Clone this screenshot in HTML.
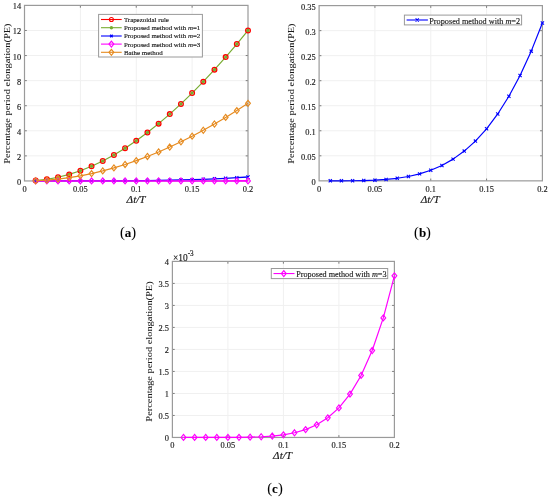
<!DOCTYPE html>
<html><head><meta charset="utf-8"><style>
html,body{margin:0;padding:0;background:#fff;width:550px;height:499px;overflow:hidden}
svg{display:block}
text{stroke:#1a1a1a;stroke-width:0.15px;paint-order:stroke}
</style></head><body>
<svg width="550" height="499" viewBox="0 0 550 499">
<rect width="550" height="499" fill="#fff"/>
<path d="M80.38 5.40V180.95 M136.25 5.40V180.95 M192.12 5.40V180.95 M24.50 155.87H248.00 M24.50 130.79H248.00 M24.50 105.71H248.00 M24.50 80.64H248.00 M24.50 55.56H248.00 M24.50 30.48H248.00" stroke="#f0f0f0" stroke-width="1" fill="none"/>
<path d="M80.38 180.95v-2.3M80.38 5.40v2.3 M136.25 180.95v-2.3M136.25 5.40v2.3 M192.12 180.95v-2.3M192.12 5.40v2.3 M24.50 155.87h2.3M248.00 155.87h-2.3 M24.50 130.79h2.3M248.00 130.79h-2.3 M24.50 105.71h2.3M248.00 105.71h-2.3 M24.50 80.64h2.3M248.00 80.64h-2.3 M24.50 55.56h2.3M248.00 55.56h-2.3 M24.50 30.48h2.3M248.00 30.48h-2.3" stroke="#6e6e6e" stroke-width="0.9" fill="none"/>
<rect x="24.50" y="5.40" width="223.50" height="175.55" stroke="#9a9a9a" stroke-width="1.2" fill="none"/>
<g font-family="'Liberation Serif', serif" font-size="8.4" fill="#1a1a1a"><text x="24.50" y="192.15" text-anchor="middle">0</text><text x="80.38" y="192.15" text-anchor="middle">0.05</text><text x="136.25" y="192.15" text-anchor="middle">0.1</text><text x="192.12" y="192.15" text-anchor="middle">0.15</text><text x="248.00" y="192.15" text-anchor="middle">0.2</text><text x="21.10" y="184.95" text-anchor="end">0</text><text x="21.10" y="159.87" text-anchor="end">2</text><text x="21.10" y="134.79" text-anchor="end">4</text><text x="21.10" y="109.71" text-anchor="end">6</text><text x="21.10" y="84.64" text-anchor="end">8</text><text x="21.10" y="59.56" text-anchor="end">10</text><text x="21.10" y="34.48" text-anchor="end">12</text><text x="21.10" y="9.40" text-anchor="end">14</text></g>
<polyline points="35.67,180.54 46.85,179.30 58.02,177.25 69.20,174.38 80.38,170.70 91.55,166.24 102.73,160.99 113.90,154.98 125.07,148.22 136.25,140.73 147.42,132.53 158.60,123.64 169.78,114.09 180.95,103.89 192.12,93.07 203.30,81.65 214.47,69.65 225.65,57.10 236.82,44.02 248.00,30.44" stroke="#77ac30" stroke-width="1.2" fill="none" stroke-linejoin="round"/>
<circle cx="35.67" cy="180.54" r="2.35" stroke="#ff0000" stroke-width="1.3" fill="none"/><circle cx="46.85" cy="179.30" r="2.35" stroke="#ff0000" stroke-width="1.3" fill="none"/><circle cx="58.02" cy="177.25" r="2.35" stroke="#ff0000" stroke-width="1.3" fill="none"/><circle cx="69.20" cy="174.38" r="2.35" stroke="#ff0000" stroke-width="1.3" fill="none"/><circle cx="80.38" cy="170.70" r="2.35" stroke="#ff0000" stroke-width="1.3" fill="none"/><circle cx="91.55" cy="166.24" r="2.35" stroke="#ff0000" stroke-width="1.3" fill="none"/><circle cx="102.73" cy="160.99" r="2.35" stroke="#ff0000" stroke-width="1.3" fill="none"/><circle cx="113.90" cy="154.98" r="2.35" stroke="#ff0000" stroke-width="1.3" fill="none"/><circle cx="125.07" cy="148.22" r="2.35" stroke="#ff0000" stroke-width="1.3" fill="none"/><circle cx="136.25" cy="140.73" r="2.35" stroke="#ff0000" stroke-width="1.3" fill="none"/><circle cx="147.42" cy="132.53" r="2.35" stroke="#ff0000" stroke-width="1.3" fill="none"/><circle cx="158.60" cy="123.64" r="2.35" stroke="#ff0000" stroke-width="1.3" fill="none"/><circle cx="169.78" cy="114.09" r="2.35" stroke="#ff0000" stroke-width="1.3" fill="none"/><circle cx="180.95" cy="103.89" r="2.35" stroke="#ff0000" stroke-width="1.3" fill="none"/><circle cx="192.12" cy="93.07" r="2.35" stroke="#ff0000" stroke-width="1.3" fill="none"/><circle cx="203.30" cy="81.65" r="2.35" stroke="#ff0000" stroke-width="1.3" fill="none"/><circle cx="214.47" cy="69.65" r="2.35" stroke="#ff0000" stroke-width="1.3" fill="none"/><circle cx="225.65" cy="57.10" r="2.35" stroke="#ff0000" stroke-width="1.3" fill="none"/><circle cx="236.82" cy="44.02" r="2.35" stroke="#ff0000" stroke-width="1.3" fill="none"/><circle cx="248.00" cy="30.44" r="2.35" stroke="#ff0000" stroke-width="1.3" fill="none"/>
<circle cx="35.67" cy="180.54" r="1.7" fill="#77ac30"/><circle cx="46.85" cy="179.30" r="1.7" fill="#77ac30"/><circle cx="58.02" cy="177.25" r="1.7" fill="#77ac30"/><circle cx="69.20" cy="174.38" r="1.7" fill="#77ac30"/><circle cx="80.38" cy="170.70" r="1.7" fill="#77ac30"/><circle cx="91.55" cy="166.24" r="1.7" fill="#77ac30"/><circle cx="102.73" cy="160.99" r="1.7" fill="#77ac30"/><circle cx="113.90" cy="154.98" r="1.7" fill="#77ac30"/><circle cx="125.07" cy="148.22" r="1.7" fill="#77ac30"/><circle cx="136.25" cy="140.73" r="1.7" fill="#77ac30"/><circle cx="147.42" cy="132.53" r="1.7" fill="#77ac30"/><circle cx="158.60" cy="123.64" r="1.7" fill="#77ac30"/><circle cx="169.78" cy="114.09" r="1.7" fill="#77ac30"/><circle cx="180.95" cy="103.89" r="1.7" fill="#77ac30"/><circle cx="192.12" cy="93.07" r="1.7" fill="#77ac30"/><circle cx="203.30" cy="81.65" r="1.7" fill="#77ac30"/><circle cx="214.47" cy="69.65" r="1.7" fill="#77ac30"/><circle cx="225.65" cy="57.10" r="1.7" fill="#77ac30"/><circle cx="236.82" cy="44.02" r="1.7" fill="#77ac30"/><circle cx="248.00" cy="30.44" r="1.7" fill="#77ac30"/>
<polyline points="35.67,180.95 46.85,180.95 58.02,180.95 69.20,180.94 80.38,180.93 91.55,180.92 102.73,180.89 113.90,180.84 125.07,180.78 136.25,180.68 147.42,180.56 158.60,180.41 169.78,180.21 180.95,179.95 192.12,179.65 203.30,179.28 214.47,178.83 225.65,178.31 236.82,177.70 248.00,177.00" stroke="#0000ff" stroke-width="1.3" fill="none" stroke-linejoin="round"/>
<path d="M34.07 179.35L37.27 182.55M34.07 182.55L37.27 179.35" stroke="#0000ff" stroke-width="1.1"/><path d="M45.25 179.35L48.45 182.55M45.25 182.55L48.45 179.35" stroke="#0000ff" stroke-width="1.1"/><path d="M56.42 179.35L59.62 182.55M56.42 182.55L59.62 179.35" stroke="#0000ff" stroke-width="1.1"/><path d="M67.60 179.34L70.80 182.54M67.60 182.54L70.80 179.34" stroke="#0000ff" stroke-width="1.1"/><path d="M78.78 179.33L81.97 182.53M78.78 182.53L81.97 179.33" stroke="#0000ff" stroke-width="1.1"/><path d="M89.95 179.32L93.15 182.52M89.95 182.52L93.15 179.32" stroke="#0000ff" stroke-width="1.1"/><path d="M101.13 179.29L104.33 182.49M101.13 182.49L104.33 179.29" stroke="#0000ff" stroke-width="1.1"/><path d="M112.30 179.24L115.50 182.44M112.30 182.44L115.50 179.24" stroke="#0000ff" stroke-width="1.1"/><path d="M123.47 179.18L126.67 182.38M123.47 182.38L126.67 179.18" stroke="#0000ff" stroke-width="1.1"/><path d="M134.65 179.08L137.85 182.28M134.65 182.28L137.85 179.08" stroke="#0000ff" stroke-width="1.1"/><path d="M145.82 178.96L149.02 182.16M145.82 182.16L149.02 178.96" stroke="#0000ff" stroke-width="1.1"/><path d="M157.00 178.81L160.20 182.01M157.00 182.01L160.20 178.81" stroke="#0000ff" stroke-width="1.1"/><path d="M168.18 178.61L171.38 181.81M168.18 181.81L171.38 178.61" stroke="#0000ff" stroke-width="1.1"/><path d="M179.35 178.35L182.55 181.55M179.35 181.55L182.55 178.35" stroke="#0000ff" stroke-width="1.1"/><path d="M190.52 178.05L193.72 181.25M190.52 181.25L193.72 178.05" stroke="#0000ff" stroke-width="1.1"/><path d="M201.70 177.68L204.90 180.88M201.70 180.88L204.90 177.68" stroke="#0000ff" stroke-width="1.1"/><path d="M212.88 177.23L216.07 180.43M212.88 180.43L216.07 177.23" stroke="#0000ff" stroke-width="1.1"/><path d="M224.05 176.71L227.25 179.91M224.05 179.91L227.25 176.71" stroke="#0000ff" stroke-width="1.1"/><path d="M235.22 176.10L238.42 179.30M235.22 179.30L238.42 176.10" stroke="#0000ff" stroke-width="1.1"/><path d="M246.40 175.40L249.60 178.60M246.40 178.60L249.60 175.40" stroke="#0000ff" stroke-width="1.1"/>
<polyline points="35.67,180.95 46.85,180.95 58.02,180.95 69.20,180.95 80.38,180.95 91.55,180.95 102.73,180.95 113.90,180.95 125.07,180.95 136.25,180.95 147.42,180.95 158.60,180.95 169.78,180.95 180.95,180.94 192.12,180.94 203.30,180.94 214.47,180.93 225.65,180.93 236.82,180.92 248.00,180.90" stroke="#ff00ff" stroke-width="1.6" fill="none" stroke-linejoin="round"/>
<path d="M35.67 177.95L38.07 180.95L35.67 183.95L33.27 180.95Z" stroke="#ff00ff" stroke-width="1.15" fill="none"/><path d="M46.85 177.95L49.25 180.95L46.85 183.95L44.45 180.95Z" stroke="#ff00ff" stroke-width="1.15" fill="none"/><path d="M58.02 177.95L60.42 180.95L58.02 183.95L55.62 180.95Z" stroke="#ff00ff" stroke-width="1.15" fill="none"/><path d="M69.20 177.95L71.60 180.95L69.20 183.95L66.80 180.95Z" stroke="#ff00ff" stroke-width="1.15" fill="none"/><path d="M80.38 177.95L82.78 180.95L80.38 183.95L77.97 180.95Z" stroke="#ff00ff" stroke-width="1.15" fill="none"/><path d="M91.55 177.95L93.95 180.95L91.55 183.95L89.15 180.95Z" stroke="#ff00ff" stroke-width="1.15" fill="none"/><path d="M102.73 177.95L105.13 180.95L102.73 183.95L100.33 180.95Z" stroke="#ff00ff" stroke-width="1.15" fill="none"/><path d="M113.90 177.95L116.30 180.95L113.90 183.95L111.50 180.95Z" stroke="#ff00ff" stroke-width="1.15" fill="none"/><path d="M125.07 177.95L127.47 180.95L125.07 183.95L122.67 180.95Z" stroke="#ff00ff" stroke-width="1.15" fill="none"/><path d="M136.25 177.95L138.65 180.95L136.25 183.95L133.85 180.95Z" stroke="#ff00ff" stroke-width="1.15" fill="none"/><path d="M147.42 177.95L149.82 180.95L147.42 183.95L145.02 180.95Z" stroke="#ff00ff" stroke-width="1.15" fill="none"/><path d="M158.60 177.95L161.00 180.95L158.60 183.95L156.20 180.95Z" stroke="#ff00ff" stroke-width="1.15" fill="none"/><path d="M169.78 177.95L172.18 180.95L169.78 183.95L167.38 180.95Z" stroke="#ff00ff" stroke-width="1.15" fill="none"/><path d="M180.95 177.94L183.35 180.94L180.95 183.94L178.55 180.94Z" stroke="#ff00ff" stroke-width="1.15" fill="none"/><path d="M192.12 177.94L194.52 180.94L192.12 183.94L189.72 180.94Z" stroke="#ff00ff" stroke-width="1.15" fill="none"/><path d="M203.30 177.94L205.70 180.94L203.30 183.94L200.90 180.94Z" stroke="#ff00ff" stroke-width="1.15" fill="none"/><path d="M214.47 177.93L216.88 180.93L214.47 183.93L212.07 180.93Z" stroke="#ff00ff" stroke-width="1.15" fill="none"/><path d="M225.65 177.93L228.05 180.93L225.65 183.93L223.25 180.93Z" stroke="#ff00ff" stroke-width="1.15" fill="none"/><path d="M236.82 177.92L239.22 180.92L236.82 183.92L234.42 180.92Z" stroke="#ff00ff" stroke-width="1.15" fill="none"/><path d="M248.00 177.90L250.40 180.90L248.00 183.90L245.60 180.90Z" stroke="#ff00ff" stroke-width="1.15" fill="none"/>
<polyline points="35.67,180.74 46.85,180.13 58.02,179.10 69.20,177.66 80.38,175.82 91.55,173.57 102.73,170.93 113.90,167.89 125.07,164.47 136.25,160.66 147.42,156.48 158.60,151.94 169.78,147.04 180.95,141.78 192.12,136.19 203.30,130.25 214.47,124.00 225.65,117.43 236.82,110.55 248.00,103.37" stroke="#e68a1e" stroke-width="1.2" fill="none" stroke-linejoin="round"/>
<path d="M35.67 177.74L38.07 180.74L35.67 183.74L33.27 180.74Z" stroke="#e68a1e" stroke-width="1.15" fill="none"/><path d="M46.85 177.13L49.25 180.13L46.85 183.13L44.45 180.13Z" stroke="#e68a1e" stroke-width="1.15" fill="none"/><path d="M58.02 176.10L60.42 179.10L58.02 182.10L55.62 179.10Z" stroke="#e68a1e" stroke-width="1.15" fill="none"/><path d="M69.20 174.66L71.60 177.66L69.20 180.66L66.80 177.66Z" stroke="#e68a1e" stroke-width="1.15" fill="none"/><path d="M80.38 172.82L82.78 175.82L80.38 178.82L77.97 175.82Z" stroke="#e68a1e" stroke-width="1.15" fill="none"/><path d="M91.55 170.57L93.95 173.57L91.55 176.57L89.15 173.57Z" stroke="#e68a1e" stroke-width="1.15" fill="none"/><path d="M102.73 167.93L105.13 170.93L102.73 173.93L100.33 170.93Z" stroke="#e68a1e" stroke-width="1.15" fill="none"/><path d="M113.90 164.89L116.30 167.89L113.90 170.89L111.50 167.89Z" stroke="#e68a1e" stroke-width="1.15" fill="none"/><path d="M125.07 161.47L127.47 164.47L125.07 167.47L122.67 164.47Z" stroke="#e68a1e" stroke-width="1.15" fill="none"/><path d="M136.25 157.66L138.65 160.66L136.25 163.66L133.85 160.66Z" stroke="#e68a1e" stroke-width="1.15" fill="none"/><path d="M147.42 153.48L149.82 156.48L147.42 159.48L145.02 156.48Z" stroke="#e68a1e" stroke-width="1.15" fill="none"/><path d="M158.60 148.94L161.00 151.94L158.60 154.94L156.20 151.94Z" stroke="#e68a1e" stroke-width="1.15" fill="none"/><path d="M169.78 144.04L172.18 147.04L169.78 150.04L167.38 147.04Z" stroke="#e68a1e" stroke-width="1.15" fill="none"/><path d="M180.95 138.78L183.35 141.78L180.95 144.78L178.55 141.78Z" stroke="#e68a1e" stroke-width="1.15" fill="none"/><path d="M192.12 133.19L194.52 136.19L192.12 139.19L189.72 136.19Z" stroke="#e68a1e" stroke-width="1.15" fill="none"/><path d="M203.30 127.25L205.70 130.25L203.30 133.25L200.90 130.25Z" stroke="#e68a1e" stroke-width="1.15" fill="none"/><path d="M214.47 121.00L216.88 124.00L214.47 127.00L212.07 124.00Z" stroke="#e68a1e" stroke-width="1.15" fill="none"/><path d="M225.65 114.43L228.05 117.43L225.65 120.43L223.25 117.43Z" stroke="#e68a1e" stroke-width="1.15" fill="none"/><path d="M236.82 107.55L239.22 110.55L236.82 113.55L234.42 110.55Z" stroke="#e68a1e" stroke-width="1.15" fill="none"/><path d="M248.00 100.37L250.40 103.37L248.00 106.37L245.60 103.37Z" stroke="#e68a1e" stroke-width="1.15" fill="none"/>
<rect x="98.6" y="14.4" width="103.80" height="42.60" fill="#fff" stroke="#9a9a9a" stroke-width="1"/>
<path d="M101 19.5H121.7" stroke="#ff0000" stroke-width="1.1"/>
<circle cx="111.40" cy="19.50" r="2.0" stroke="#ff0000" stroke-width="1.1" fill="none"/>
<text x="123.9" y="21.90" font-family="'Liberation Serif', serif" font-size="6.9" fill="#1a1a1a" textLength="45.0" lengthAdjust="spacingAndGlyphs">Trapezoidal rule</text>
<path d="M101 27.7H121.7" stroke="#77ac30" stroke-width="1.1"/>
<circle cx="111.40" cy="27.70" r="1.7" fill="#77ac30"/>
<text x="123.9" y="30.10" font-family="'Liberation Serif', serif" font-size="6.9" fill="#1a1a1a" textLength="76.4" lengthAdjust="spacingAndGlyphs">Proposed method with <tspan font-style="italic">m</tspan>=1</text>
<path d="M101 36.0H121.7" stroke="#0000ff" stroke-width="1.1"/>
<path d="M110.10 34.70L112.70 37.30M110.10 37.30L112.70 34.70" stroke="#0000ff" stroke-width="1.3"/>
<text x="123.9" y="38.40" font-family="'Liberation Serif', serif" font-size="6.9" fill="#1a1a1a" textLength="76.4" lengthAdjust="spacingAndGlyphs">Proposed method with <tspan font-style="italic">m</tspan>=2</text>
<path d="M101 44.1H121.7" stroke="#ff00ff" stroke-width="1.1"/>
<path d="M111.40 41.10L113.80 44.10L111.40 47.10L109.00 44.10Z" stroke="#ff00ff" stroke-width="1.15" fill="none"/>
<text x="123.9" y="46.50" font-family="'Liberation Serif', serif" font-size="6.9" fill="#1a1a1a" textLength="76.4" lengthAdjust="spacingAndGlyphs">Proposed method with <tspan font-style="italic">m</tspan>=3</text>
<path d="M101 52.3H121.7" stroke="#e68a1e" stroke-width="1.1"/>
<path d="M111.40 49.30L113.80 52.30L111.40 55.30L109.00 52.30Z" stroke="#e68a1e" stroke-width="1.15" fill="none"/>
<text x="123.9" y="54.70" font-family="'Liberation Serif', serif" font-size="6.9" fill="#1a1a1a" textLength="38.8" lengthAdjust="spacingAndGlyphs">Bathe method</text>
<text transform="translate(9.60,93.60) rotate(-90)" text-anchor="middle" font-family="'Liberation Serif', serif" font-size="8.6" fill="#1a1a1a" style="stroke-width:0.05px" textLength="140.3" lengthAdjust="spacingAndGlyphs">Percentage period elongation(PE)</text>
<text x="136.10" y="202.70" text-anchor="middle" font-family="'Liberation Serif', serif" font-size="9.6" font-style="italic" fill="#1a1a1a" textLength="19" lengthAdjust="spacingAndGlyphs">&#916;t/T</text>
<text x="128.00" y="236.90" text-anchor="middle" font-family="'Liberation Serif', serif" font-size="14.5" fill="#000" style="stroke-width:0.05px">(<tspan font-weight="bold" font-size="13">a</tspan>)</text>
<path d="M374.93 5.60V180.85 M430.75 5.60V180.85 M486.57 5.60V180.85 M319.10 155.81H542.40 M319.10 130.78H542.40 M319.10 105.74H542.40 M319.10 80.71H542.40 M319.10 55.67H542.40 M319.10 30.64H542.40" stroke="#f0f0f0" stroke-width="1" fill="none"/>
<path d="M374.93 180.85v-2.3M374.93 5.60v2.3 M430.75 180.85v-2.3M430.75 5.60v2.3 M486.57 180.85v-2.3M486.57 5.60v2.3 M319.10 155.81h2.3M542.40 155.81h-2.3 M319.10 130.78h2.3M542.40 130.78h-2.3 M319.10 105.74h2.3M542.40 105.74h-2.3 M319.10 80.71h2.3M542.40 80.71h-2.3 M319.10 55.67h2.3M542.40 55.67h-2.3 M319.10 30.64h2.3M542.40 30.64h-2.3" stroke="#6e6e6e" stroke-width="0.9" fill="none"/>
<rect x="319.10" y="5.60" width="223.30" height="175.25" stroke="#9a9a9a" stroke-width="1.2" fill="none"/>
<g font-family="'Liberation Serif', serif" font-size="8.4" fill="#1a1a1a"><text x="319.10" y="192.05" text-anchor="middle">0</text><text x="374.93" y="192.05" text-anchor="middle">0.05</text><text x="430.75" y="192.05" text-anchor="middle">0.1</text><text x="486.57" y="192.05" text-anchor="middle">0.15</text><text x="542.40" y="192.05" text-anchor="middle">0.2</text><text x="315.70" y="184.85" text-anchor="end">0</text><text x="315.70" y="159.81" text-anchor="end">0.05</text><text x="315.70" y="134.78" text-anchor="end">0.1</text><text x="315.70" y="109.74" text-anchor="end">0.15</text><text x="315.70" y="84.71" text-anchor="end">0.2</text><text x="315.70" y="59.67" text-anchor="end">0.25</text><text x="315.70" y="34.64" text-anchor="end">0.3</text><text x="315.70" y="9.60" text-anchor="end">0.35</text></g>
<polyline points="330.27,180.85 341.43,180.83 352.60,180.76 363.76,180.57 374.93,180.18 386.09,179.46 397.25,178.28 408.42,176.48 419.58,173.87 430.75,170.26 441.91,165.43 453.08,159.12 464.25,151.10 475.41,141.09 486.57,128.82 497.74,113.98 508.90,96.30 520.07,75.45 531.23,51.15 542.40,23.08" stroke="#0000ff" stroke-width="1.2" fill="none" stroke-linejoin="round"/>
<path d="M328.67 179.25L331.87 182.45M328.67 182.45L331.87 179.25" stroke="#0000ff" stroke-width="1.1"/><path d="M339.83 179.23L343.03 182.43M339.83 182.43L343.03 179.23" stroke="#0000ff" stroke-width="1.1"/><path d="M351.00 179.16L354.20 182.36M351.00 182.36L354.20 179.16" stroke="#0000ff" stroke-width="1.1"/><path d="M362.16 178.97L365.36 182.17M362.16 182.17L365.36 178.97" stroke="#0000ff" stroke-width="1.1"/><path d="M373.32 178.58L376.53 181.78M373.32 181.78L376.53 178.58" stroke="#0000ff" stroke-width="1.1"/><path d="M384.49 177.86L387.69 181.06M384.49 181.06L387.69 177.86" stroke="#0000ff" stroke-width="1.1"/><path d="M395.65 176.68L398.86 179.88M395.65 179.88L398.86 176.68" stroke="#0000ff" stroke-width="1.1"/><path d="M406.82 174.88L410.02 178.08M406.82 178.08L410.02 174.88" stroke="#0000ff" stroke-width="1.1"/><path d="M417.98 172.27L421.19 175.47M417.98 175.47L421.19 172.27" stroke="#0000ff" stroke-width="1.1"/><path d="M429.15 168.66L432.35 171.86M429.15 171.86L432.35 168.66" stroke="#0000ff" stroke-width="1.1"/><path d="M440.31 163.83L443.51 167.03M440.31 167.03L443.51 163.83" stroke="#0000ff" stroke-width="1.1"/><path d="M451.48 157.52L454.68 160.72M451.48 160.72L454.68 157.52" stroke="#0000ff" stroke-width="1.1"/><path d="M462.64 149.50L465.85 152.70M462.64 152.70L465.85 149.50" stroke="#0000ff" stroke-width="1.1"/><path d="M473.81 139.49L477.01 142.69M473.81 142.69L477.01 139.49" stroke="#0000ff" stroke-width="1.1"/><path d="M484.97 127.22L488.17 130.42M484.97 130.42L488.17 127.22" stroke="#0000ff" stroke-width="1.1"/><path d="M496.14 112.38L499.34 115.58M496.14 115.58L499.34 112.38" stroke="#0000ff" stroke-width="1.1"/><path d="M507.30 94.70L510.50 97.90M507.30 97.90L510.50 94.70" stroke="#0000ff" stroke-width="1.1"/><path d="M518.47 73.85L521.67 77.05M518.47 77.05L521.67 73.85" stroke="#0000ff" stroke-width="1.1"/><path d="M529.63 49.55L532.83 52.75M529.63 52.75L532.83 49.55" stroke="#0000ff" stroke-width="1.1"/><path d="M540.80 21.48L544.00 24.68M540.80 24.68L544.00 21.48" stroke="#0000ff" stroke-width="1.1"/>
<rect x="404.4" y="15.1" width="117.20" height="9.80" fill="#fff" stroke="#9a9a9a" stroke-width="1"/>
<path d="M406.6 20.00H427.9" stroke="#0000ff" stroke-width="1.1"/>
<path d="M415.60 18.40L418.80 21.60M415.60 21.60L418.80 18.40" stroke="#0000ff" stroke-width="1.1"/>
<text x="429.3" y="23.50" font-family="'Liberation Serif', serif" font-size="8.3" fill="#1a1a1a" textLength="90.8" lengthAdjust="spacingAndGlyphs">Proposed method with <tspan font-style="italic">m</tspan>=2</text>
<text transform="translate(294.00,93.60) rotate(-90)" text-anchor="middle" font-family="'Liberation Serif', serif" font-size="8.6" fill="#1a1a1a" style="stroke-width:0.05px" textLength="140.3" lengthAdjust="spacingAndGlyphs">Percentage period elongation(PE)</text>
<text x="430.20" y="202.70" text-anchor="middle" font-family="'Liberation Serif', serif" font-size="9.6" font-style="italic" fill="#1a1a1a" textLength="19" lengthAdjust="spacingAndGlyphs">&#916;t/T</text>
<text x="422.50" y="236.90" text-anchor="middle" font-family="'Liberation Serif', serif" font-size="14.5" fill="#000" style="stroke-width:0.05px">(<tspan font-weight="bold" font-size="13">b</tspan>)</text>
<path d="M227.90 261.40V437.45 M283.40 261.40V437.45 M338.90 261.40V437.45 M172.40 415.44H394.40 M172.40 393.44H394.40 M172.40 371.43H394.40 M172.40 349.42H394.40 M172.40 327.42H394.40 M172.40 305.41H394.40 M172.40 283.41H394.40" stroke="#f0f0f0" stroke-width="1" fill="none"/>
<path d="M227.90 437.45v-2.3M227.90 261.40v2.3 M283.40 437.45v-2.3M283.40 261.40v2.3 M338.90 437.45v-2.3M338.90 261.40v2.3 M172.40 415.44h2.3M394.40 415.44h-2.3 M172.40 393.44h2.3M394.40 393.44h-2.3 M172.40 371.43h2.3M394.40 371.43h-2.3 M172.40 349.42h2.3M394.40 349.42h-2.3 M172.40 327.42h2.3M394.40 327.42h-2.3 M172.40 305.41h2.3M394.40 305.41h-2.3 M172.40 283.41h2.3M394.40 283.41h-2.3" stroke="#6e6e6e" stroke-width="0.9" fill="none"/>
<rect x="172.40" y="261.40" width="222.00" height="176.05" stroke="#9a9a9a" stroke-width="1.2" fill="none"/>
<g font-family="'Liberation Serif', serif" font-size="8.4" fill="#1a1a1a"><text x="172.40" y="448.15" text-anchor="middle">0</text><text x="227.90" y="448.15" text-anchor="middle">0.05</text><text x="283.40" y="448.15" text-anchor="middle">0.1</text><text x="338.90" y="448.15" text-anchor="middle">0.15</text><text x="394.40" y="448.15" text-anchor="middle">0.2</text><text x="169.00" y="441.45" text-anchor="end">0</text><text x="169.00" y="419.44" text-anchor="end">0.5</text><text x="169.00" y="397.44" text-anchor="end">1</text><text x="169.00" y="375.43" text-anchor="end">1.5</text><text x="169.00" y="353.42" text-anchor="end">2</text><text x="169.00" y="331.42" text-anchor="end">2.5</text><text x="169.00" y="309.41" text-anchor="end">3</text><text x="169.00" y="287.41" text-anchor="end">3.5</text><text x="169.00" y="265.40" text-anchor="end">4</text></g>
<polyline points="183.50,437.45 194.60,437.45 205.70,437.45 216.80,437.44 227.90,437.41 239.00,437.33 250.10,437.14 261.20,436.75 272.30,436.04 283.40,434.80 294.50,432.78 305.60,429.60 316.70,424.82 327.80,417.82 338.90,407.89 350.00,394.12 361.10,375.44 372.20,350.54 383.30,317.93 394.40,275.85" stroke="#ff00ff" stroke-width="1.2" fill="none" stroke-linejoin="round"/>
<path d="M183.50 434.45L185.90 437.45L183.50 440.45L181.10 437.45Z" stroke="#ff00ff" stroke-width="1.15" fill="none"/><path d="M194.60 434.45L197.00 437.45L194.60 440.45L192.20 437.45Z" stroke="#ff00ff" stroke-width="1.15" fill="none"/><path d="M205.70 434.45L208.10 437.45L205.70 440.45L203.30 437.45Z" stroke="#ff00ff" stroke-width="1.15" fill="none"/><path d="M216.80 434.44L219.20 437.44L216.80 440.44L214.40 437.44Z" stroke="#ff00ff" stroke-width="1.15" fill="none"/><path d="M227.90 434.41L230.30 437.41L227.90 440.41L225.50 437.41Z" stroke="#ff00ff" stroke-width="1.15" fill="none"/><path d="M239.00 434.33L241.40 437.33L239.00 440.33L236.60 437.33Z" stroke="#ff00ff" stroke-width="1.15" fill="none"/><path d="M250.10 434.14L252.50 437.14L250.10 440.14L247.70 437.14Z" stroke="#ff00ff" stroke-width="1.15" fill="none"/><path d="M261.20 433.75L263.60 436.75L261.20 439.75L258.80 436.75Z" stroke="#ff00ff" stroke-width="1.15" fill="none"/><path d="M272.30 433.04L274.70 436.04L272.30 439.04L269.90 436.04Z" stroke="#ff00ff" stroke-width="1.15" fill="none"/><path d="M283.40 431.80L285.80 434.80L283.40 437.80L281.00 434.80Z" stroke="#ff00ff" stroke-width="1.15" fill="none"/><path d="M294.50 429.78L296.90 432.78L294.50 435.78L292.10 432.78Z" stroke="#ff00ff" stroke-width="1.15" fill="none"/><path d="M305.60 426.60L308.00 429.60L305.60 432.60L303.20 429.60Z" stroke="#ff00ff" stroke-width="1.15" fill="none"/><path d="M316.70 421.82L319.10 424.82L316.70 427.82L314.30 424.82Z" stroke="#ff00ff" stroke-width="1.15" fill="none"/><path d="M327.80 414.82L330.20 417.82L327.80 420.82L325.40 417.82Z" stroke="#ff00ff" stroke-width="1.15" fill="none"/><path d="M338.90 404.89L341.30 407.89L338.90 410.89L336.50 407.89Z" stroke="#ff00ff" stroke-width="1.15" fill="none"/><path d="M350.00 391.12L352.40 394.12L350.00 397.12L347.60 394.12Z" stroke="#ff00ff" stroke-width="1.15" fill="none"/><path d="M361.10 372.44L363.50 375.44L361.10 378.44L358.70 375.44Z" stroke="#ff00ff" stroke-width="1.15" fill="none"/><path d="M372.20 347.54L374.60 350.54L372.20 353.54L369.80 350.54Z" stroke="#ff00ff" stroke-width="1.15" fill="none"/><path d="M383.30 314.93L385.70 317.93L383.30 320.93L380.90 317.93Z" stroke="#ff00ff" stroke-width="1.15" fill="none"/><path d="M394.40 272.85L396.80 275.85L394.40 278.85L392.00 275.85Z" stroke="#ff00ff" stroke-width="1.15" fill="none"/>
<rect x="271.3" y="268.5" width="116.40" height="10.10" fill="#fff" stroke="#9a9a9a" stroke-width="1"/>
<path d="M273.5 273.55H294.5" stroke="#ff00ff" stroke-width="1.1"/>
<path d="M283.80 270.55L286.20 273.55L283.80 276.55L281.40 273.55Z" stroke="#ff00ff" stroke-width="1.15" fill="none"/>
<text x="296.2" y="276.75" font-family="'Liberation Serif', serif" font-size="8.3" fill="#1a1a1a" textLength="90.3" lengthAdjust="spacingAndGlyphs">Proposed method with <tspan font-style="italic">m</tspan>=3</text>
<text x="173.0" y="260.8" font-family="'Liberation Serif', serif" font-size="9.4" fill="#1a1a1a">&#215;10<tspan font-size="7.2" dy="-5.1">-3</tspan></text>
<text transform="translate(152.00,351.50) rotate(-90)" text-anchor="middle" font-family="'Liberation Serif', serif" font-size="8.6" fill="#1a1a1a" style="stroke-width:0.05px" textLength="140.3" lengthAdjust="spacingAndGlyphs">Percentage period elongation(PE)</text>
<text x="282.60" y="459.10" text-anchor="middle" font-family="'Liberation Serif', serif" font-size="9.6" font-style="italic" fill="#1a1a1a" textLength="19" lengthAdjust="spacingAndGlyphs">&#916;t/T</text>
<text x="275.00" y="492.80" text-anchor="middle" font-family="'Liberation Serif', serif" font-size="14.5" fill="#000" style="stroke-width:0.05px">(<tspan font-weight="bold" font-size="13">c</tspan>)</text>
</svg>
</body></html>
